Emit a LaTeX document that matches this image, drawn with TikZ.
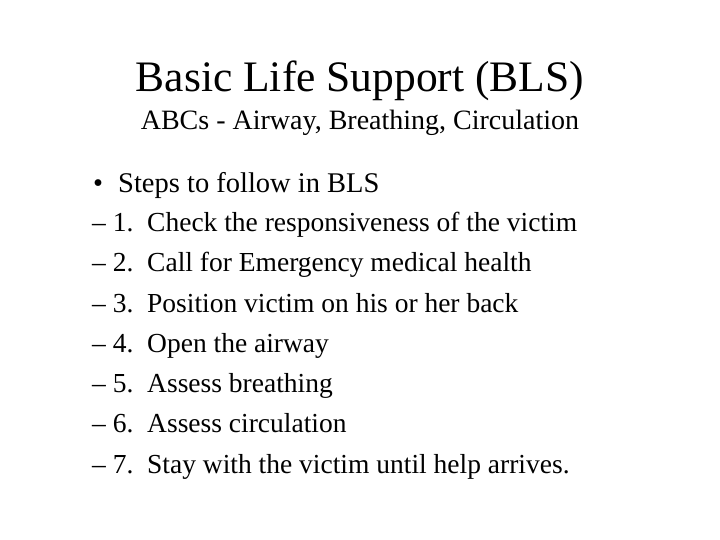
\documentclass[tikz,border=0pt]{standalone}
\usepackage{fontspec}
\setmainfont{Liberation Serif}
\begin{document}
\begin{tikzpicture}[x=1pt,y=-1pt,
  item/.style={anchor=base west,inner sep=0pt,font=\fontsize{27.5}{30}\selectfont}]
\useasboundingbox[fill=white] (0,0) rectangle (720,540);
\node[anchor=base,inner sep=0pt,font=\fontsize{43.5}{48}\selectfont] (t) at (360,92) {Basic Life Support (BLS)};
\node[anchor=base,inner sep=0pt,font=\fontsize{28}{30}\selectfont] (s) at (360,130) {ABCs - Airway, Breathing, Circulation};
\node[anchor=base west,inner sep=0pt,font=\fontsize{28.5}{30}\selectfont] (bu) at (93,193) {\textbullet};
\node[anchor=base west,inner sep=0pt,font=\fontsize{28.5}{30}\selectfont] (b) at (118,193) {Steps to follow in BLS};
\node[item] (i1) at (92,231) {–\ 1.\ \ Check the responsiveness of the victim};
\node[item] (i2) at (92,271) {–\ 2.\ \ Call for Emergency medical health};
\node[item] (i3) at (92,312) {–\ 3.\ \ Position victim on his or her back};
\node[item] (i4) at (92,352) {–\ 4.\ \ Open the airway};
\node[item] (i5) at (92,392) {–\ 5.\ \ Assess breathing};
\node[item] (i6) at (92,432) {–\ 6.\ \ Assess circulation};
\node[item] (i7) at (92,473) {–\ 7.\ \ Stay with the victim until help arrives.};
\end{tikzpicture}
\end{document}
